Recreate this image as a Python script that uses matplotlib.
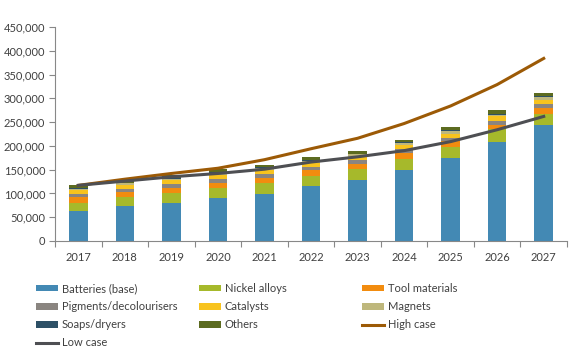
import numpy as np
import matplotlib.pyplot as plt
from matplotlib.patches import Patch
from matplotlib.lines import Line2D

plt.rcParams['font.family'] = ['Lato', 'DejaVu Sans']

years = ['2017', '2018', '2019', '2020', '2021', '2022', '2023', '2024', '2025', '2026', '2027']

batteries = [63000, 73500, 80000, 90500, 98500, 116000, 128000, 149000, 175000, 208500, 243500]
nickel = [16000, 18000, 20000, 21500, 22500, 21000, 24000, 24000, 23000, 26000, 24500]
tool = [12500, 10500, 12000, 10000, 12000, 12000, 10000, 12500, 12000, 9000, 12000]
pigments = [7000, 7000, 7500, 8500, 7000, 7000, 8000, 8500, 7000, 9000, 8500]
catalysts = [8500, 8000, 8000, 9000, 10000, 8500, 7000, 7000, 8500, 10000, 9000]
magnets = [3000, 4000, 3500, 4000, 4000, 3500, 5000, 5500, 5500, 3500, 4500]
soaps = [1500, 1500, 1500, 2000, 2000, 2000, 1500, 1500, 1500, 1500, 2500]
others = [5500, 6500, 5500, 5000, 4000, 6500, 5500, 4000, 6500, 7500, 6500]

high_case = [117000, 130000, 142000, 153000, 171000, 194000, 216000, 247000, 284000, 329000, 384000]
low_case = [117000, 126000, 135000, 142000, 151000, 166000, 177000, 190000, 209000, 234000, 262000]

series = [
    ('Batteries (base)', batteries, '#4389b4'),
    ('Nickel alloys', nickel, '#a6b92b'),
    ('Tool materials', tool, '#f28c0f'),
    ('Pigments/decolourisers', pigments, '#8a8580'),
    ('Catalysts', catalysts, '#f8c31e'),
    ('Magnets', magnets, '#beb77c'),
    ('Soaps/dryers', soaps, '#2d5066'),
    ('Others', others, '#5c6b20'),
]
high_color = '#9c5a06'
low_color = '#4e4f53'
text_color = '#404040'

fig = plt.figure(figsize=(5.87, 3.51), dpi=100)
ax = fig.add_axes([0.0937, 0.3134, 0.8722, 0.6096])

x = np.arange(len(years))
bottom = np.zeros(len(years))
handles = {}
for name, vals, col in series:
    ax.bar(x, vals, 0.4, bottom=bottom, color=col, zorder=2)
    bottom += np.array(vals)
    handles[name] = Patch(facecolor=col)

ax.plot(x, high_case, color=high_color, lw=2.2, zorder=3)
ax.plot(x, low_case, color=low_color, lw=2.2, zorder=3)
handles['High case'] = Line2D([], [], color=high_color, lw=2.2)
handles['Low case'] = Line2D([], [], color=low_color, lw=2.2)

ax.set_xlim(-0.5, len(years) - 0.5)
ax.set_ylim(0, 450000)
ax.set_yticks(np.arange(0, 450001, 50000))
ax.set_yticklabels([f'{v:,}' for v in range(0, 450001, 50000)])

# ticks between categories, labels at the centres
ax.set_xticks(np.arange(-0.5, len(years), 1.0))
ax.set_xticklabels([])
ax.set_xticks(x, minor=True)
ax.set_xticklabels(years, minor=True)
ax.tick_params(axis='x', which='major', length=4, color='#888888', direction='out')
ax.tick_params(axis='x', which='minor', length=0, pad=8, labelsize=8, labelcolor=text_color)
ax.tick_params(axis='y', length=4, color='#888888', pad=3, labelsize=8, labelcolor=text_color)

for s in ['top', 'right']:
    ax.spines[s].set_visible(False)
for s in ['left', 'bottom']:
    ax.spines[s].set_color('#888888')
    ax.spines[s].set_linewidth(0.8)

cols = [
    ['Batteries (base)', 'Pigments/decolourisers', 'Soaps/dryers', 'Low case'],
    ['Nickel alloys', 'Catalysts', 'Others'],
    ['Tool materials', 'Magnets', 'High case'],
]
xpos = [36, 199, 362]
for names, xp in zip(cols, xpos):
    leg = fig.legend([handles[n] for n in names], names, loc='upper left',
                     bbox_to_anchor=(xp / 587, 1 - 283 / 351), frameon=False,
                     fontsize=8, handlelength=2.0, handleheight=0.55,
                     handletextpad=0.3, labelspacing=0.64, borderpad=0,
                     borderaxespad=0)
    for t in leg.get_texts():
        t.set_color(text_color)

fig.savefig('out.png', dpi=100)
